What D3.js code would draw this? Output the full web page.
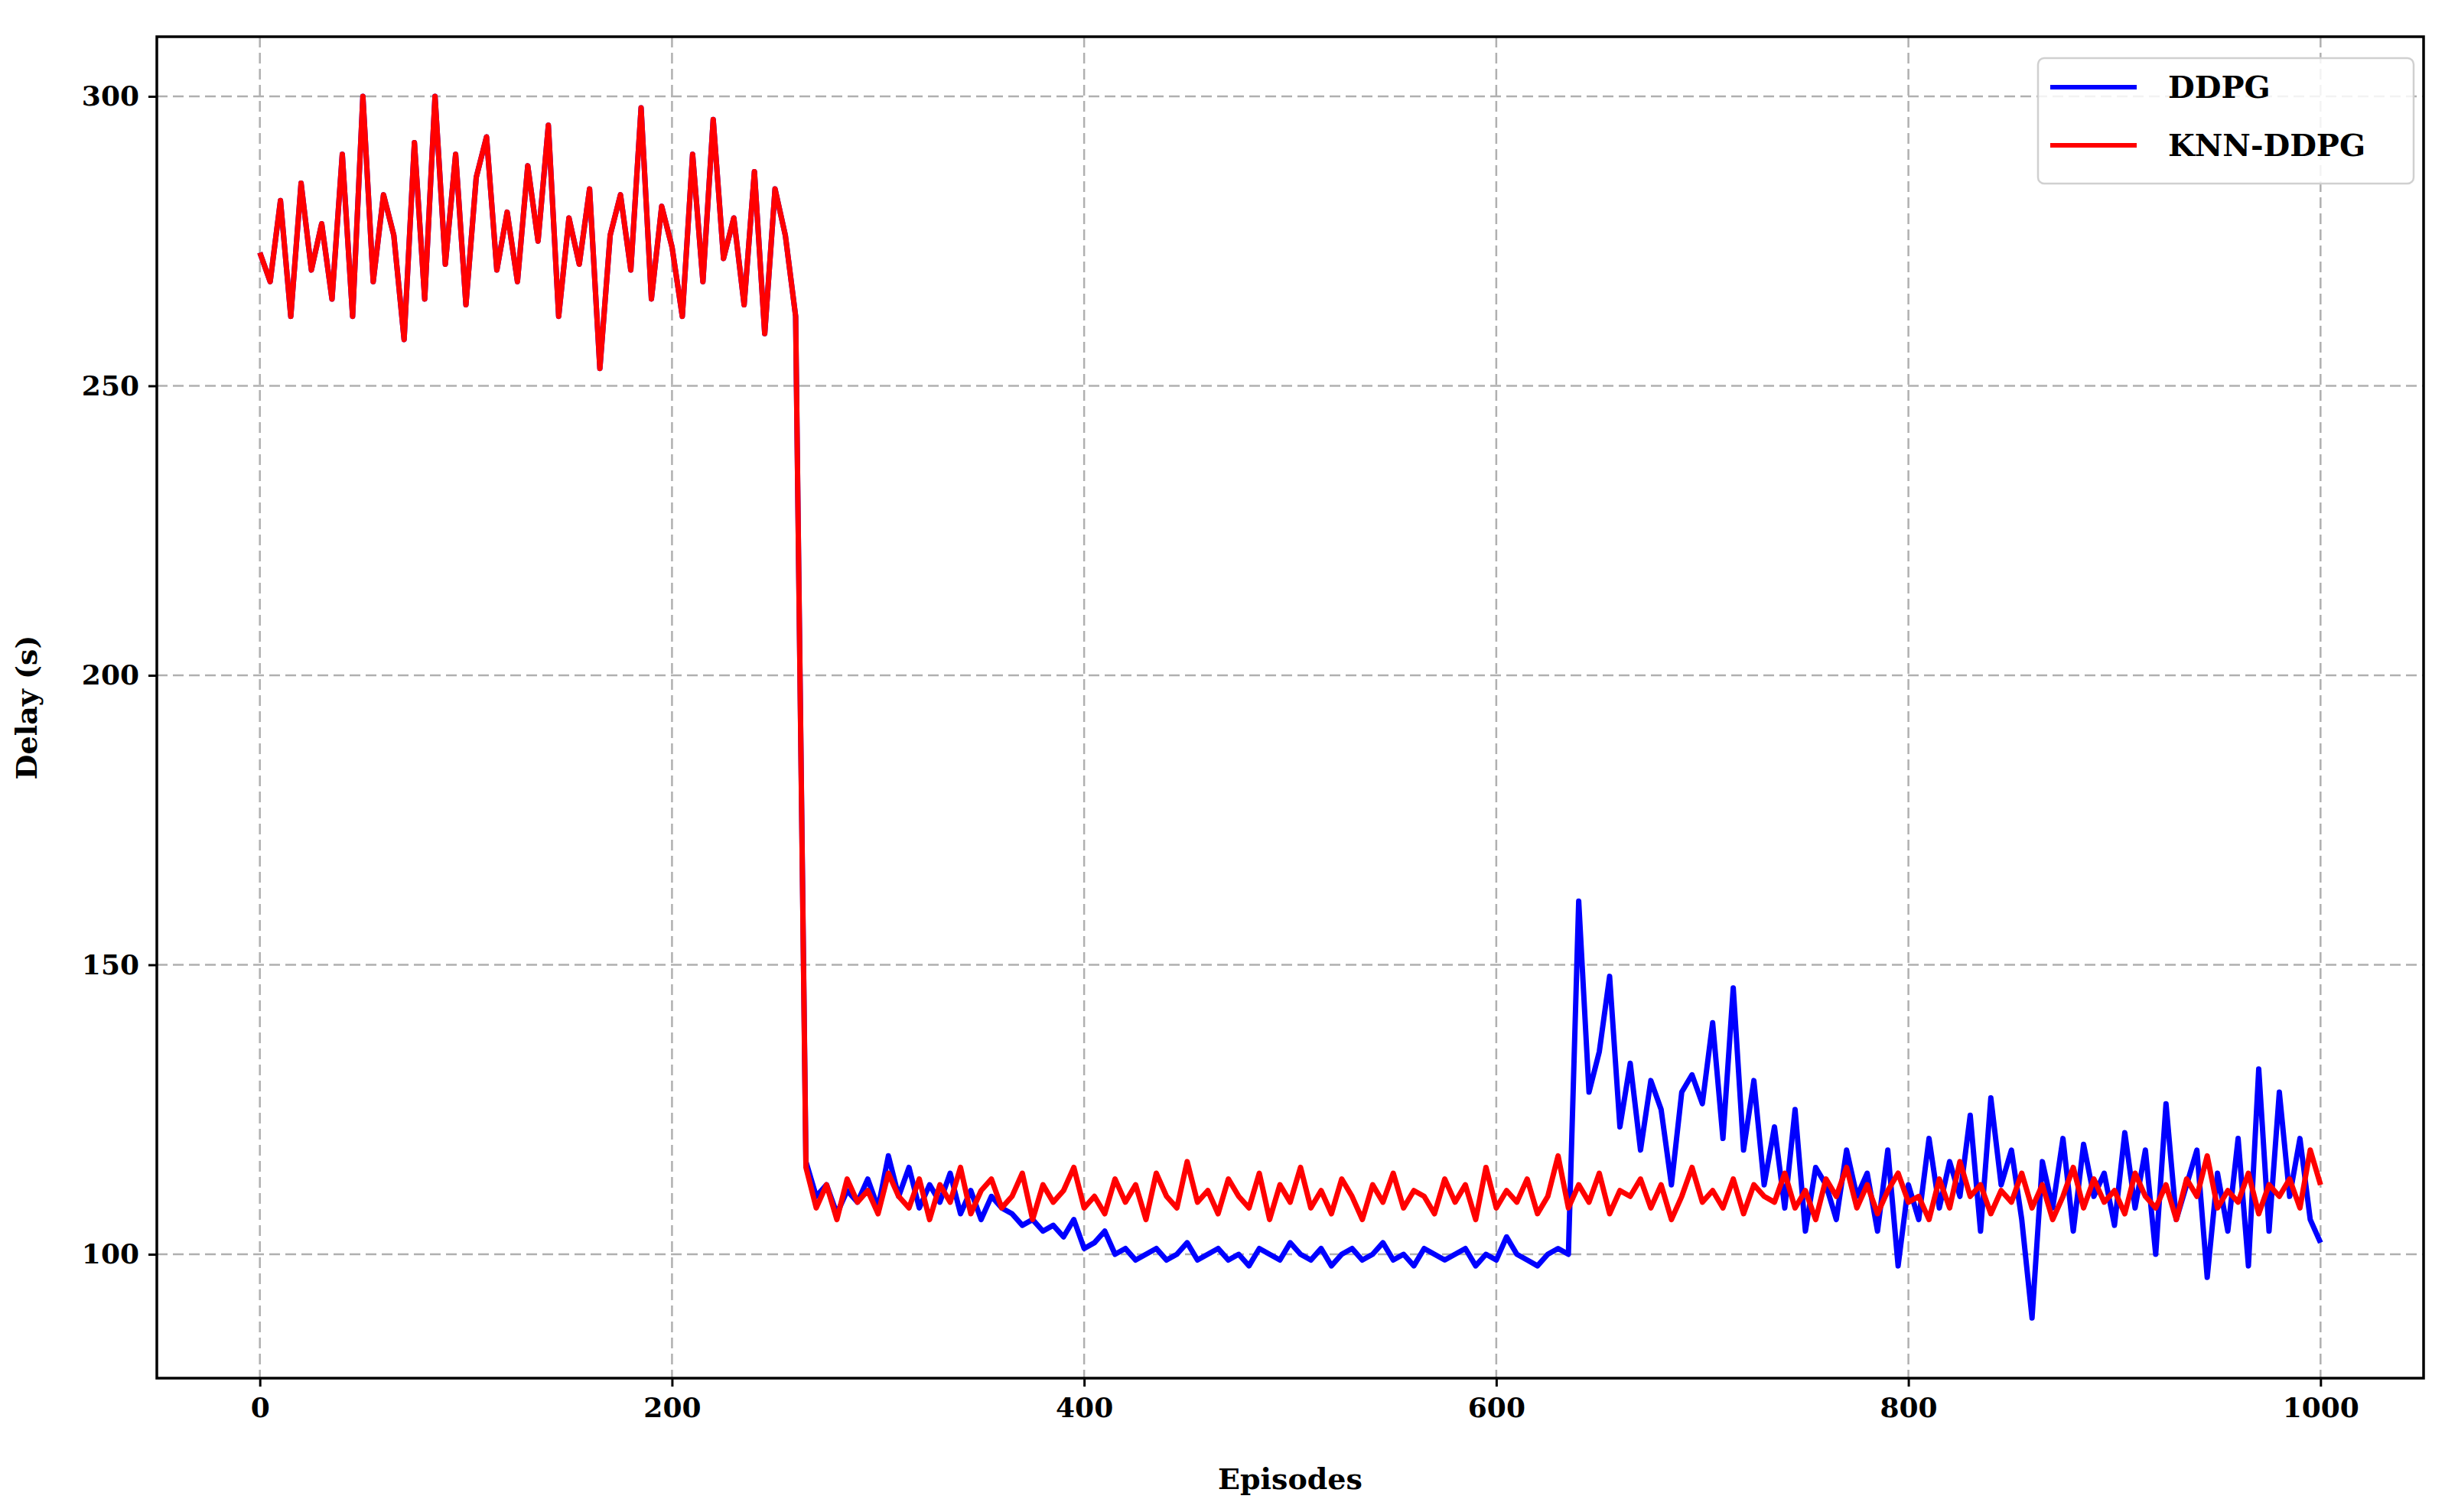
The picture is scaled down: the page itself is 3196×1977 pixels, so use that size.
<!DOCTYPE html>
<html>
<head>
<meta charset="utf-8">
<script src="https://cdn.jsdelivr.net/npm/d3@7"></script>
<style>
  body { margin: 0; background: #fff; }
  text { font-family: "DejaVu Serif", "Liberation Serif", serif; font-weight: bold; }
</style>
</head>
<body>
<svg id="chart" width="3196" height="1977"></svg>
<script>
// episodes sampled every 5
const episodes = d3.range(0, 1001, 5);

// 0..260, both agents overlap here
const earlyDelay = [
  273,268,282,262,285,270,278,265,290,262,
  300,268,283,276,258,292,265,300,271,290,
  264,286,293,270,280,268,288,275,295,262,
  279,271,284,253,276,283,270,298,265,281,
  274,262,290,268,296,272,279,264,287,259,
  284,276,262
];

// 265..1000
const knnLate = [
  115,108,112,106,113,109,111,107,114,110,
  108,113,106,112,109,115,107,111,113,108,
  110,114,106,112,109,111,115,108,110,107,
  113,109,112,106,114,110,108,116,109,111,
  107,113,110,108,114,106,112,109,115,108,
  111,107,113,110,106,112,109,114,108,111,
  110,107,113,109,112,106,115,108,111,109,
  113,107,110,117,108,112,109,114,107,111,
  110,113,108,112,106,110,115,109,111,108,
  113,107,112,110,109,114,108,111,106,113,
  110,115,108,112,107,111,114,109,110,106,
  113,108,116,110,112,107,111,109,114,108,
  112,106,110,115,108,113,109,111,107,114,
  110,108,112,106,113,110,117,108,111,109,
  114,107,112,110,113,108,118,112
];

const ddpgLate = [
  // 265..400
  116,110,112,107,111,109,113,108,117,110,
  115,108,112,109,114,107,111,106,110,108,
  107,105,106,104,105,103,106,101,
  // 405..635
  102,104,100,101,99,100,101,99,100,102,
  99,100,101,99,100,98,101,100,99,102,
  100,99,101,98,100,101,99,100,102,99,
  100,98,101,100,99,100,101,98,100,99,
  103,100,99,98,100,101,100,
  // 640..1000
  161,128,135,148,122,133,118,130,125,112,
  128,131,126,140,120,146,118,130,112,122,
  108,125,104,115,112,106,118,110,114,104,
  118,98,112,106,120,108,116,110,124,104,
  127,112,118,106,89,116,108,120,104,119,
  110,114,105,121,108,118,100,126,106,112,
  118,96,114,104,120,98,132,104,128,110,
  120,106,102
];

const ddpg = earlyDelay.concat(ddpgLate);
const knn = earlyDelay.concat(knnLate);

const xTicks = [0, 200, 400, 600, 800, 1000];
const yTicks = [100, 150, 200, 250, 300];

const margin = { top: 48, left: 205, right: 28, bottom: 175 },
  W = 3196, H = 1977,
  width = W - margin.left - margin.right,
  height = H - margin.top - margin.bottom;

const svg = d3.select("#chart");
const g = svg.append("g").attr("transform", `translate(${margin.left},${margin.top})`);

const x = d3.scaleLinear().domain([-50, 1050]).range([0, width]);
const y = d3.scaleLinear().domain([78.6, 310.3]).range([height, 0]);

// grid
g.append("g").selectAll("line").data(xTicks).enter().append("line")
  .attr("x1", d => x(d)).attr("x2", d => x(d)).attr("y1", 0).attr("y2", height)
  .attr("stroke", "#b0b0b0").attr("stroke-width", 2.5).attr("stroke-dasharray", "14,7");
g.append("g").selectAll("line").data(yTicks).enter().append("line")
  .attr("y1", d => y(d)).attr("y2", d => y(d)).attr("x1", 0).attr("x2", width)
  .attr("stroke", "#b0b0b0").attr("stroke-width", 2.5).attr("stroke-dasharray", "14,7");

const line = d3.line().x((d, i) => x(episodes[i])).y(d => y(d));

g.append("path").datum(ddpg).attr("d", line)
  .attr("fill", "none").attr("stroke", "#0000ff").attr("stroke-width", 7).attr("stroke-linejoin", "round");
g.append("path").datum(knn).attr("d", line)
  .attr("fill", "none").attr("stroke", "#ff0000").attr("stroke-width", 7).attr("stroke-linejoin", "round");

// axes
const xAxis = g.append("g").attr("transform", `translate(0,${height})`)
  .call(d3.axisBottom(x).tickValues(xTicks).tickFormat(d3.format("d")).tickSize(11).tickPadding(14));
const yAxis = g.append("g")
  .call(d3.axisLeft(y).tickValues(yTicks).tickFormat(d3.format("d")).tickSize(11).tickPadding(12));
[xAxis, yAxis].forEach(a => {
  a.select(".domain").remove();
  a.selectAll("line").attr("stroke", "#000").attr("stroke-width", 3);
  a.selectAll("text").attr("font-size", 36).attr("fill", "#000");
});

g.append("rect").attr("width", width).attr("height", height)
  .attr("fill", "none").attr("stroke", "#000").attr("stroke-width", 3.5);

g.append("text").attr("x", width / 2).attr("y", height + 145)
  .attr("text-anchor", "middle").attr("font-size", 38).text("Episodes");
svg.append("text").attr("transform", `translate(48,${margin.top + height / 2}) rotate(-90)`)
  .attr("text-anchor", "middle").attr("font-size", 38).text("Delay (s)");

// legend
const leg = svg.append("g").attr("transform", "translate(2664,76)");
leg.append("rect").attr("width", 491).attr("height", 164).attr("rx", 8)
  .attr("fill", "#fff").attr("fill-opacity", 0.85).attr("stroke", "#d0d0d0").attr("stroke-width", 2.5);
const items = [["DDPG", "#0000ff"], ["KNN-DDPG", "#ff0000"]];
items.forEach((it, i) => {
  const yy = 38 + i * 76;
  leg.append("line").attr("x1", 16).attr("x2", 129).attr("y1", yy).attr("y2", yy)
    .attr("stroke", it[1]).attr("stroke-width", 6);
  leg.append("text").attr("x", 170).attr("y", yy + 14).attr("font-size", 40).text(it[0]);
});
</script>
</body>
</html>
